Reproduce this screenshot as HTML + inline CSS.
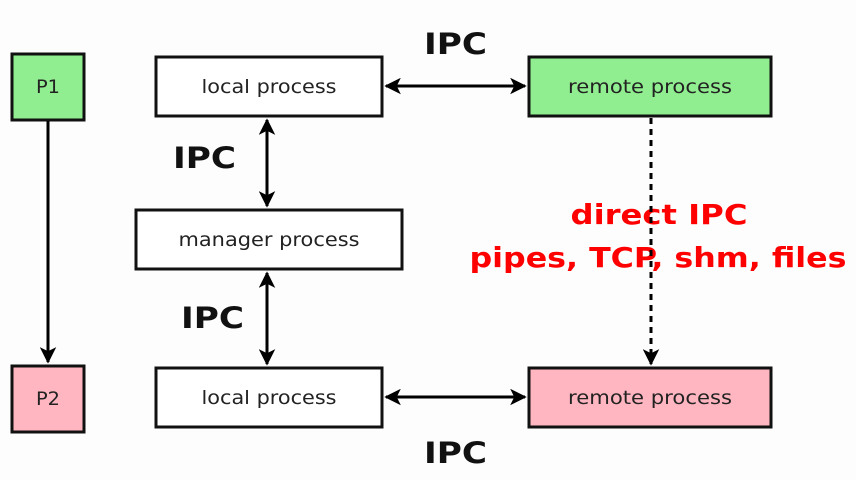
<!DOCTYPE html>
<html><head><meta charset="utf-8"><style>
html,body{margin:0;padding:0;background:#fdfdfd;}
svg{display:block;}
</style></head><body>
<svg width="856" height="480" viewBox="0 0 856 480" xmlns="http://www.w3.org/2000/svg">
<defs>
<marker id="a" viewBox="0 0 10 10" refX="9" refY="5" markerWidth="5.5" markerHeight="5.5" orient="auto-start-reverse"><path d="M0,0 L10,5 L0,10 L2.5,5 z" fill="#000"/></marker>
</defs>
<rect width="856" height="480" fill="#fdfdfd"/>
<g stroke="#111" stroke-width="3">
<rect x="12" y="54" width="72" height="66" fill="#90ee90"/>
<rect x="12" y="366" width="72" height="66" fill="#ffb6c1"/>
<rect x="156" y="57" width="226" height="59" fill="#fff"/>
<rect x="136" y="210" width="266" height="59" fill="#fff"/>
<rect x="156" y="368" width="226" height="59" fill="#fff"/>
<rect x="529" y="57" width="242" height="59" fill="#90ee90"/>
<rect x="529" y="368" width="242" height="59" fill="#ffb6c1"/>
</g>
<g font-family="'DejaVu Sans',Verdana,sans-serif" font-size="19" fill="#222" text-anchor="middle">
<text x="48" y="93" textLength="24" lengthAdjust="spacingAndGlyphs">P1</text>
<text x="48" y="405" textLength="24" lengthAdjust="spacingAndGlyphs">P2</text>
<text x="269" y="93" textLength="135" lengthAdjust="spacingAndGlyphs">local process</text>
<text x="269" y="246" textLength="181" lengthAdjust="spacingAndGlyphs">manager process</text>
<text x="269" y="404" textLength="135" lengthAdjust="spacingAndGlyphs">local process</text>
<text x="650" y="93" textLength="164" lengthAdjust="spacingAndGlyphs">remote process</text>
<text x="650" y="404" textLength="164" lengthAdjust="spacingAndGlyphs">remote process</text>
</g>
<text x="659" y="224" font-family="'DejaVu Sans',Verdana,sans-serif" font-weight="bold" font-size="28" fill="#f00" text-anchor="middle" textLength="177" lengthAdjust="spacingAndGlyphs">direct IPC</text>
<text x="658" y="267" font-family="'DejaVu Sans',Verdana,sans-serif" font-weight="bold" font-size="28" fill="#f00" text-anchor="middle" textLength="377" lengthAdjust="spacingAndGlyphs">pipes, TCP, shm, files</text>
<g stroke="#000" stroke-width="3" fill="none">
<line x1="48" y1="121" x2="48" y2="362" marker-end="url(#a)"/>
<line x1="386" y1="86" x2="525" y2="86" marker-start="url(#a)" marker-end="url(#a)"/>
<line x1="386" y1="397" x2="525" y2="397" marker-start="url(#a)" marker-end="url(#a)"/>
<line x1="267" y1="120" x2="267" y2="206" marker-start="url(#a)" marker-end="url(#a)"/>
<line x1="267" y1="273" x2="267" y2="364" marker-start="url(#a)" marker-end="url(#a)"/>
<line x1="651" y1="118" x2="651" y2="364" stroke-dasharray="6,5" marker-end="url(#a)"/>
</g>
<g font-family="'DejaVu Sans',Verdana,sans-serif" font-weight="bold" font-size="29" fill="#111">
<text x="424" y="54" textLength="63" lengthAdjust="spacingAndGlyphs">IPC</text>
<text x="173" y="168" textLength="63" lengthAdjust="spacingAndGlyphs">IPC</text>
<text x="181" y="328" textLength="63" lengthAdjust="spacingAndGlyphs">IPC</text>
<text x="424" y="463" textLength="63" lengthAdjust="spacingAndGlyphs">IPC</text>
</g>
</svg>
</body></html>
